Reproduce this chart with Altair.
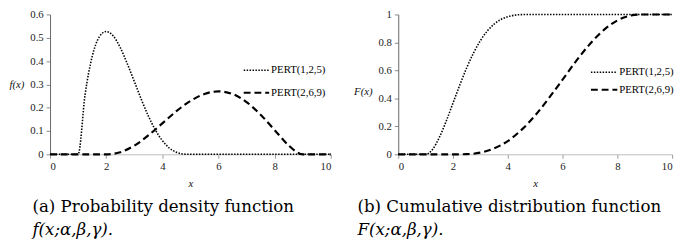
import altair as alt
import pandas as pd

# ---- data ----
series = ["PERT(1,2,5)", "PERT(2,6,9)"]

x_a = [0, 0.5, 1, 1.25, 1.5, 1.75, 2, 2.25, 2.5, 2.75, 3, 3.25, 3.5, 3.75, 4,
       4.25, 4.5, 4.75, 5, 6, 7, 8, 9, 10]
pdf_a = [0, 0, 0, 0.258, 0.419, 0.503, 0.527, 0.508, 0.458, 0.389, 0.313, 0.236,
         0.165, 0.105, 0.059, 0.027, 0.009, 0.001, 0, 0, 0, 0, 0, 0]
cdf_a = [0, 0, 0, 0.034, 0.121, 0.237, 0.367, 0.497, 0.619, 0.725, 0.813, 0.881,
         0.931, 0.964, 0.984, 0.995, 0.999, 1.0, 1, 1, 1, 1, 1, 1]

x_b = [0, 1, 2, 2.25, 2.5, 3, 3.5, 4, 4.5, 5, 5.5, 6, 6.5, 7, 7.5, 8, 8.5, 8.75, 9, 10]
pdf_b = [0, 0, 0, 0.002, 0.009, 0.037, 0.081, 0.133, 0.185, 0.229, 0.259, 0.270,
         0.259, 0.224, 0.170, 0.104, 0.038, 0.013, 0, 0]
cdf_b = [0, 0, 0, 0.0001, 0.001, 0.012, 0.042, 0.095, 0.175, 0.278, 0.402, 0.534,
         0.668, 0.789, 0.888, 0.957, 0.993, 0.999, 1, 1]

x_ticks = [0, 2, 4, 6, 8, 10]
pdf_ticks = [0, 0.1, 0.2, 0.3, 0.4, 0.5, 0.6]
cdf_ticks = [0, 0.2, 0.4, 0.6, 0.8, 1]

SERIF = "Liberation Serif"
CAP = "DejaVu Serif"
DASHES = [[1.5, 1.5], [7, 4]]
WIDTHS = [1.6, 2.2]


def frame(ya, yb):
    return pd.DataFrame({
        "x": x_a + x_b,
        "y": ya + yb,
        "s": [series[0]] * len(x_a) + [series[1]] * len(x_b),
    })


def panel(df, ymax, yticks, ytitle, w, h, legpos, caption, sub, cap_dx, title_y=None):
    ykw = dict(values=yticks, format=".1~f", title=ytitle, titleAngle=0,
               titleAlign="right", titleBaseline="middle", titleFont=SERIF,
               titleFontStyle="italic", titleFontWeight="normal", titleFontSize=11,
               titleColor="#111", titlePadding=6, labelFont=SERIF, labelFontSize=11,
               labelColor="#222", labelPadding=3, tickSize=4, tickColor="#888",
               domainColor="#666", grid=False)
    if title_y is not None:
        ykw["titleY"] = title_y
    xaxis = alt.Axis(values=x_ticks, format="d", title="x", titleFont=SERIF,
                     titleFontStyle="italic", titleFontWeight="normal", titleFontSize=11,
                     titleColor="#111", titlePadding=6, labelFont=SERIF, labelFontSize=11,
                     labelColor="#222", labelPadding=3, tickSize=4, tickColor="#999",
                     domainColor="#bbb", grid=False)
    lines = alt.Chart(df).mark_line(interpolate="monotone", color="black").encode(
        x=alt.X("x:Q", scale=alt.Scale(domain=[0, 10], nice=False), axis=xaxis),
        y=alt.Y("y:Q", scale=alt.Scale(domain=[0, ymax], nice=False), axis=alt.Axis(**ykw)),
        strokeDash=alt.StrokeDash("s:N", scale=alt.Scale(domain=series, range=DASHES), legend=None),
        strokeWidth=alt.StrokeWidth("s:N", scale=alt.Scale(domain=series, range=WIDTHS), legend=None),
        detail="s:N",
    )
    layers = [lines]
    (x0, x1, xt), ys = legpos
    for i, name in enumerate(series):
        one = pd.DataFrame({"s": [name]})
        layers.append(alt.Chart(one).mark_rule(color="black", strokeDash=DASHES[i],
                                               strokeWidth=WIDTHS[i]).encode(
            x=alt.value(x0), x2=alt.value(x1), y=alt.value(ys[i])))
        layers.append(alt.Chart(one).mark_text(align="left", baseline="middle", font=SERIF,
                                               fontSize=11, color="black").encode(
            x=alt.value(xt), y=alt.value(ys[i]), text="s:N"))
    return alt.layer(*layers).properties(
        width=w, height=h,
        title=alt.TitleParams(
            text=caption, subtitle=sub, orient="bottom", anchor="start", frame="bounds",
            font=CAP, fontSize=17, fontWeight="normal", color="black",
            subtitleFont=CAP, subtitleFontStyle="italic", subtitleFontSize=17,
            subtitleColor="black", subtitlePadding=6, offset=11, dx=cap_dx),
    )


H = 143
left = panel(frame(pdf_a, pdf_b), 0.6, pdf_ticks, "f(x)", 287, H,
             ((198, 224, 226), [57, 80]),
             "(a) Probability density function", "f(x;α,β,γ).", 24)
right = panel(frame(cdf_a, cdf_b), 1, cdf_ticks, "F(x)", 280, H,
              ((197, 224, 226), [59, 77]),
              "(b) Cumulative distribution function", "F(x;α,β,γ).", 4, title_y=79)

chart = alt.hconcat(left, right, spacing=18).resolve_scale(
    y="independent", strokeDash="independent", strokeWidth="independent"
).properties(
    padding={"left": 0, "top": -2, "right": 0, "bottom": 0}
).configure_view(stroke=None)

chart.save("out.html", embed_options={"renderer": "svg", "actions": False})
